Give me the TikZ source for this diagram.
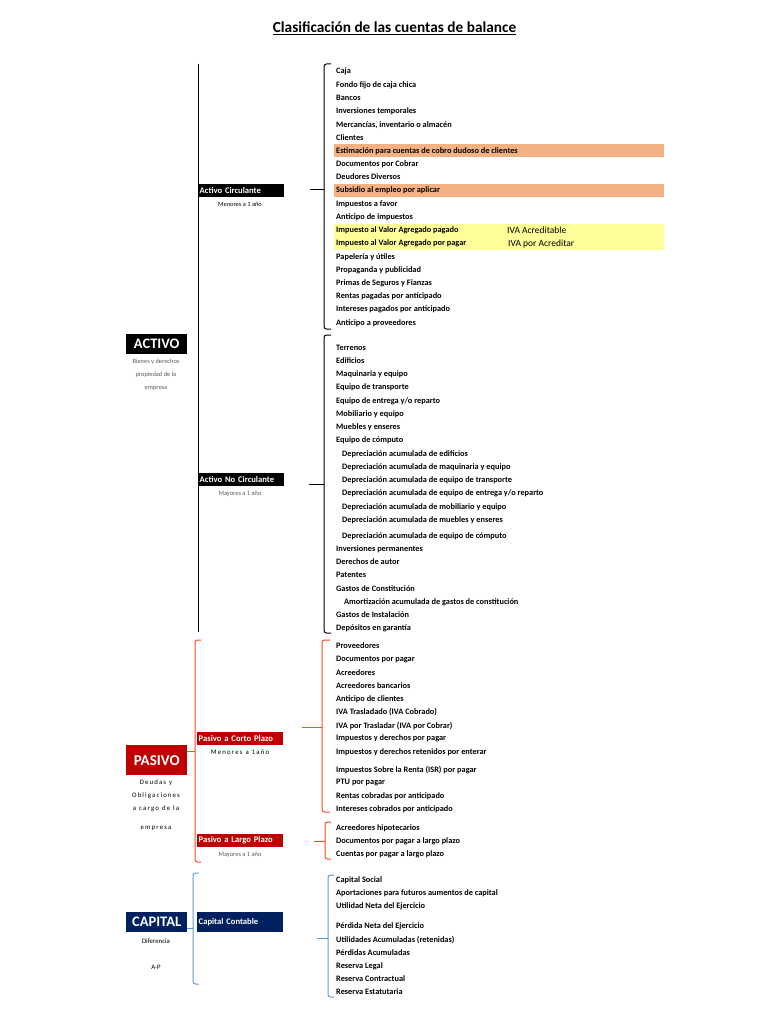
\documentclass[tikz,border=0pt]{standalone}
\usepackage{fontspec}
\setmainfont{Carlito}
\definecolor{hlorange}{HTML}{F4B183}
\definecolor{hlyellow}{HTML}{FFFF99}
\definecolor{boxred}{HTML}{C00000}
\definecolor{bracered}{HTML}{FF4A1C}
\definecolor{braceblue}{HTML}{5B9BD5}
\definecolor{boxnavy}{HTML}{002060}
\definecolor{subgray}{HTML}{595959}
\newcommand{\itemfont}{\fontsize{8.3}{9}\selectfont\bfseries}
\begin{document}
\begin{tikzpicture}[x=1pt,y=-1pt,
  item/.style={anchor=west,inner sep=0pt,font=\itemfont},
  catbox/.style={anchor=north west,minimum height=13pt,text width=83pt,inner xsep=1.5pt,inner ysep=0pt,align=left,text=white,font=\fontsize{8.6}{10}\selectfont\bfseries},
  bigbox/.style={anchor=north west,minimum width=61pt,inner sep=0pt,text=white,font=\fontsize{14.5}{16}\selectfont\bfseries},
  subtxt/.style={inner sep=0pt,font=\fontsize{6.4}{7}\selectfont},
  brace/.style={line width=1pt,rounded corners=2.5pt}
]
\path[use as bounding box] (0,0) rectangle (768,1024);

% title
\node[font=\fontsize{15.3}{17}\selectfont\bfseries,inner sep=0pt] (title) at (394.5,28) {\underline{Clasificación de las cuentas de balance}};

% highlights
\fill[hlorange] (334,144.5) rectangle (664,157.5);
\fill[hlorange] (334,184) rectangle (664,197);
\fill[hlyellow] (334,224) rectangle (664,250);

% ===== ACTIVO =====
\node[bigbox,fill=black,minimum height=20pt] (activo) at (126,334) {ACTIVO};
\node[subtxt,text=subgray] (act1) at (156,362) {Bienes y derechos};
\node[subtxt,text=subgray] (act2) at (156,375) {propiedad de la};
\node[subtxt,text=subgray] (act3) at (156,388) {empresa};

\coordinate (actop) at (198,64);
\coordinate (acbot) at (198,632);
\draw[line width=1pt] (actop) -- (acbot);

\node[catbox,fill=black] (ac) at (198,184) {Activo Circulante};
\node[subtxt] (acsub) at (240,204) {Menores a 1 año};
\node[catbox,fill=black] (anc) at (198,473) {Activo No Circulante};
\node[subtxt,text=subgray] (ancsub) at (240,494) {Mayores a 1 año};

% braces activo
\coordinate (b1m) at (310,190);
\draw[brace] (331,64) -- (324,64) -- (324,329) -- (331,329);
\draw[line width=1pt] (b1m) -- (324,190);
\coordinate (b2m) at (309,484);
\draw[brace] (331,335) -- (324,335) -- (324,633) -- (331,633);
\draw[line width=1pt] (b2m) -- (324,484);

\foreach \y/\t [count=\i] in {71/Caja,85/Fondo fijo de caja chica,98/Bancos,111/Inversiones temporales,125/{Mercancías, inventario o almacén},138/Clientes,151/Estimación para cuentas de cobro dudoso de clientes,164/Documentos por Cobrar,177/Deudores Diversos,190/Subsidio al empleo por aplicar,204/Impuestos a favor,217/Anticipo de impuestos,230/Impuesto al Valor Agregado pagado,243/Impuesto al Valor Agregado por pagar,257/Papelería y útiles,270/Propaganda y publicidad,283/Primas de Seguros y Fianzas,296/Rentas pagadas por anticipado,309/Intereses pagados por anticipado,323/Anticipo a proveedores}
  \node[item] (ac\i) at (336,\y) {\t};

\node[anchor=west,inner sep=0pt,font=\fontsize{9.5}{11}\selectfont] (ivaa) at (507,230) {IVA Acreditable};
\node[anchor=west,inner sep=0pt,font=\fontsize{9.5}{11}\selectfont] (ivap) at (508,243.5) {IVA por Acreditar};

\foreach \y/\t [count=\i] in {348/Terrenos,361/Edificios,374/Maquinaria y equipo,387/Equipo de transporte,401/{Equipo de entrega y/o reparto},414/Mobiliario y equipo,427/Muebles y enseres,440/Equipo de cómputo,549/Inversiones permanentes,562/Derechos de autor,575/Patentes,589/Gastos de Constitución,615/Gastos de Instalación,628/Depósitos en garantía}
  \node[item] (anc\i) at (336,\y) {\t};
\foreach \y/\t [count=\i] in {454/edificios,467/maquinaria y equipo,480/equipo de transporte,493/{equipo de entrega y/o reparto},507/mobiliario y equipo,520/muebles y enseres,536/equipo de cómputo}
  \node[item] (dep\i) at (342,\y) {Depreciación acumulada de \t};
\node[item] (amort) at (344,602) {Amortización acumulada de gastos de constitución};

% ===== PASIVO =====
\node[bigbox,fill=boxred,minimum height=30pt,font=\fontsize{15}{17}\selectfont\bfseries] (pasivo) at (126,745) {PASIVO};
\node[subtxt,font=\fontsize{6.8}{8}\selectfont,text=black] (pas1) at (156,783) {D\,e\,u\,d\,a\,s\ \ y};
\node[subtxt,font=\fontsize{6.8}{8}\selectfont] (pas2) at (156,796) {O\,b\,l\,i\,g\,a\,c\,i\,o\,n\,e\,s};
\node[subtxt,font=\fontsize{6.8}{8}\selectfont] (pas3) at (156,809) {a\ \ c\,a\,r\,g\,o\ \ d\,e\ \ l\,a};
\node[subtxt,font=\fontsize{6.8}{8}\selectfont] (pas4) at (156,828) {e\,m\,p\,r\,e\,s\,a};

\coordinate (pl) at (195,751);
\draw[brace,bracered] (201,640) -- (195,640) -- (195,862) -- (201,862);
\draw[line width=1pt,bracered] (pasivo.east |- pl) -- (pl);

\node[catbox,fill=boxred] (pcp) at (197,732) {Pasivo a Corto Plazo};
\node[subtxt,font=\fontsize{6.8}{8}\selectfont] (pcpsub) at (240,752) {M\,e\,n\,o\,r\,e\,s\ \ a\ \ 1\,a\,ñ\,o};
\node[catbox,fill=boxred] (plp) at (197,833.5) {Pasivo a Largo Plazo};
\node[subtxt,text=subgray] (plpsub) at (240,855) {Mayores a 1 año};

\coordinate (b3m) at (302,727);
\draw[brace,bracered] (330,640) -- (322,640) -- (322,812) -- (330,812);
\draw[line width=1pt,bracered] (b3m) -- (322,727);
\coordinate (b4m) at (314,841);
\draw[brace,bracered] (331,822) -- (325,822) -- (325,859) -- (331,859);
\draw[line width=1pt,bracered] (b4m) -- (325,841);

\foreach \y/\t [count=\i] in {646/Proveedores,660/Documentos por pagar,673/Acreedores,686/Acreedores bancarios,699/Anticipo de clientes,712/IVA Trasladado (IVA Cobrado),726/IVA por Trasladar (IVA por Cobrar),738/Impuestos y derechos por pagar,752/Impuestos y derechos retenidos por enterar,770/Impuestos Sobre la Renta (ISR) por pagar,783/PTU por pagar,796/Rentas cobradas por anticipado,809/Intereses cobrados por anticipado,828/Acreedores hipotecarios,841/Documentos por pagar a largo plazo,854/Cuentas por pagar a largo plazo}
  \node[item] (pas\i) at (336,\y) {\t};

% ===== CAPITAL =====
\node[bigbox,fill=boxnavy,minimum height=20pt] (capital) at (126,912) {CAPITAL};
\node[subtxt,font=\fontsize{6.8}{8}\selectfont] (cap1) at (156,941) {Diferencia};
\node[subtxt,font=\fontsize{6.8}{8}\selectfont] (cap2) at (156,967) {A-P};

\coordinate (cl) at (193,928);
\draw[brace,braceblue] (199,873) -- (193,873) -- (193,984) -- (199,984);
\draw[line width=1pt,braceblue] (capital.east |- cl) -- (cl);

\node[catbox,fill=boxnavy,minimum height=20pt] (cc) at (197,912) {\raisebox{-2pt}{Capital Contable}};

\coordinate (b5m) at (317,938);
\draw[brace,braceblue] (334,875) -- (328,875) -- (328,997) -- (334,997);
\draw[line width=1pt,braceblue] (b5m) -- (328,938);

\foreach \y/\t [count=\i] in {880/Capital Social,893/Aportaciones para futuros aumentos de capital,906/Utilidad Neta del Ejercicio,926/Pérdida Neta del Ejercicio,940/Utilidades Acumuladas (retenidas),953/Pérdidas Acumuladas,966/Reserva Legal,979/Reserva Contractual,992/Reserva Estatutaria}
  \node[item] (cap\i) at (336,\y) {\t};
\end{tikzpicture}
\end{document}
